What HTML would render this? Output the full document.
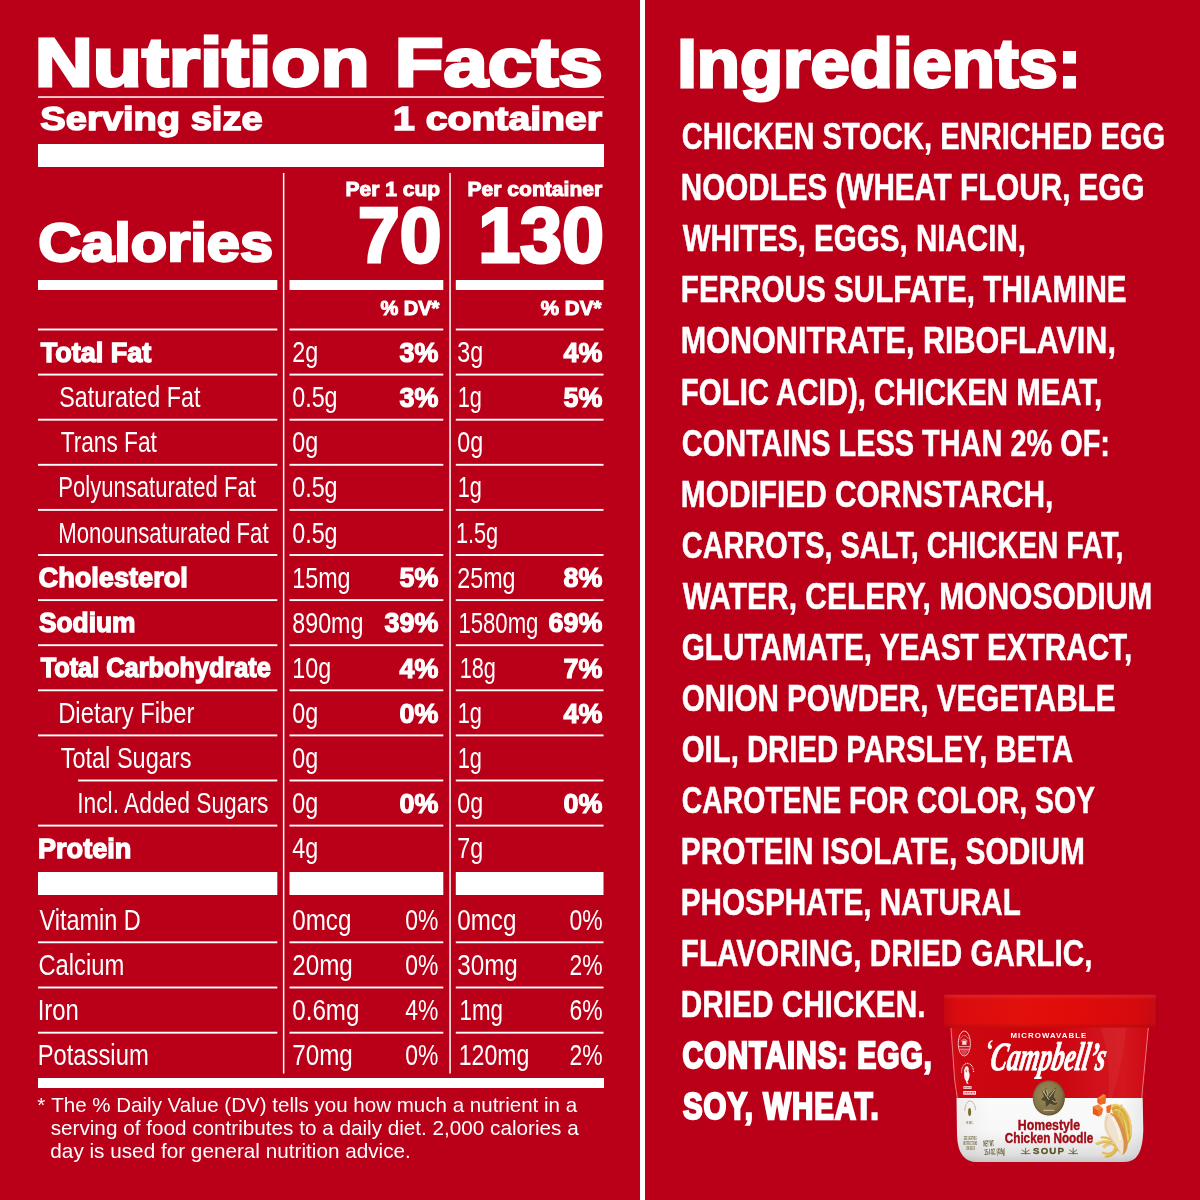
<!DOCTYPE html>
<html lang="en"><head><meta charset="utf-8"><title>Nutrition Facts and Ingredients</title>
<style>
html,body{margin:0;padding:0;background:#ba0019;width:1200px;height:1200px;overflow:hidden}
svg{display:block}
text{white-space:pre}
</style></head><body>
<svg width="1200" height="1200" viewBox="0 0 1200 1200">
<rect x="0.00" y="0.00" width="1200.00" height="1200.00" fill="#ba0019" />
<rect x="640.00" y="0.00" width="5.00" height="1200.00" fill="#fff" />
<rect x="38.00" y="96.30" width="566.00" height="1.50" fill="#fff" />
<rect x="38.00" y="144.00" width="566.00" height="23.00" fill="#fff" />
<rect x="282.90" y="173.00" width="1.50" height="900.50" fill="#fff" />
<rect x="449.30" y="173.00" width="1.50" height="900.50" fill="#fff" />
<rect x="38.00" y="280.00" width="239.30" height="10.00" fill="#fff" />
<rect x="289.50" y="280.00" width="153.80" height="10.00" fill="#fff" />
<rect x="455.80" y="280.00" width="147.70" height="10.00" fill="#fff" />
<rect x="38.00" y="328.55" width="239.30" height="1.90" fill="#fff" />
<rect x="289.50" y="328.55" width="153.80" height="1.90" fill="#fff" />
<rect x="455.80" y="328.55" width="147.70" height="1.90" fill="#fff" />
<rect x="38.00" y="373.65" width="239.30" height="1.90" fill="#fff" />
<rect x="289.50" y="373.65" width="153.80" height="1.90" fill="#fff" />
<rect x="455.80" y="373.65" width="147.70" height="1.90" fill="#fff" />
<rect x="38.00" y="418.75" width="239.30" height="1.90" fill="#fff" />
<rect x="289.50" y="418.75" width="153.80" height="1.90" fill="#fff" />
<rect x="455.80" y="418.75" width="147.70" height="1.90" fill="#fff" />
<rect x="38.00" y="463.85" width="239.30" height="1.90" fill="#fff" />
<rect x="289.50" y="463.85" width="153.80" height="1.90" fill="#fff" />
<rect x="455.80" y="463.85" width="147.70" height="1.90" fill="#fff" />
<rect x="38.00" y="508.95" width="239.30" height="1.90" fill="#fff" />
<rect x="289.50" y="508.95" width="153.80" height="1.90" fill="#fff" />
<rect x="455.80" y="508.95" width="147.70" height="1.90" fill="#fff" />
<rect x="38.00" y="554.05" width="239.30" height="1.90" fill="#fff" />
<rect x="289.50" y="554.05" width="153.80" height="1.90" fill="#fff" />
<rect x="455.80" y="554.05" width="147.70" height="1.90" fill="#fff" />
<rect x="38.00" y="599.15" width="239.30" height="1.90" fill="#fff" />
<rect x="289.50" y="599.15" width="153.80" height="1.90" fill="#fff" />
<rect x="455.80" y="599.15" width="147.70" height="1.90" fill="#fff" />
<rect x="38.00" y="644.25" width="239.30" height="1.90" fill="#fff" />
<rect x="289.50" y="644.25" width="153.80" height="1.90" fill="#fff" />
<rect x="455.80" y="644.25" width="147.70" height="1.90" fill="#fff" />
<rect x="38.00" y="689.35" width="239.30" height="1.90" fill="#fff" />
<rect x="289.50" y="689.35" width="153.80" height="1.90" fill="#fff" />
<rect x="455.80" y="689.35" width="147.70" height="1.90" fill="#fff" />
<rect x="38.00" y="734.45" width="239.30" height="1.90" fill="#fff" />
<rect x="289.50" y="734.45" width="153.80" height="1.90" fill="#fff" />
<rect x="455.80" y="734.45" width="147.70" height="1.90" fill="#fff" />
<rect x="78.00" y="779.55" width="199.30" height="1.90" fill="#fff" />
<rect x="289.50" y="779.55" width="153.80" height="1.90" fill="#fff" />
<rect x="455.80" y="779.55" width="147.70" height="1.90" fill="#fff" />
<rect x="38.00" y="824.65" width="239.30" height="1.90" fill="#fff" />
<rect x="289.50" y="824.65" width="153.80" height="1.90" fill="#fff" />
<rect x="455.80" y="824.65" width="147.70" height="1.90" fill="#fff" />
<rect x="38.00" y="872.00" width="239.30" height="23.00" fill="#fff" />
<rect x="289.50" y="872.00" width="153.80" height="23.00" fill="#fff" />
<rect x="455.80" y="872.00" width="147.70" height="23.00" fill="#fff" />
<rect x="38.00" y="941.35" width="239.30" height="1.90" fill="#fff" />
<rect x="289.50" y="941.35" width="153.80" height="1.90" fill="#fff" />
<rect x="455.80" y="941.35" width="147.70" height="1.90" fill="#fff" />
<rect x="38.00" y="986.55" width="239.30" height="1.90" fill="#fff" />
<rect x="289.50" y="986.55" width="153.80" height="1.90" fill="#fff" />
<rect x="455.80" y="986.55" width="147.70" height="1.90" fill="#fff" />
<rect x="38.00" y="1031.75" width="239.30" height="1.90" fill="#fff" />
<rect x="289.50" y="1031.75" width="153.80" height="1.90" fill="#fff" />
<rect x="455.80" y="1031.75" width="147.70" height="1.90" fill="#fff" />
<rect x="38.00" y="1078.00" width="566.00" height="10.00" fill="#fff" />
<g font-family="'Liberation Sans', sans-serif" fill="#fff">
<text transform="translate(34.73 86.00) scale(1.1720 1)" font-size="68.6" font-weight="700" stroke="#fff" stroke-width="3" stroke-linejoin="miter">Nutrition</text>
<text transform="translate(394.76 86.00) scale(1.1608 1)" font-size="68.6" font-weight="700" stroke="#fff" stroke-width="3" stroke-linejoin="miter">Facts</text>
<text transform="translate(40.28 130.25) scale(1.1659 1)" font-size="32.7" font-weight="700" stroke="#fff" stroke-width="1.5" stroke-linejoin="miter">Serving size</text>
<text transform="translate(392.95 130.45) scale(1.1992 1)" font-size="32.7" font-weight="700" stroke="#fff" stroke-width="1.5" stroke-linejoin="miter">1 container</text>
<text transform="translate(38.26 261.25) scale(1.0917 1)" font-size="54.5" font-weight="700" stroke="#fff" stroke-width="2.5" stroke-linejoin="miter">Calories</text>
<text transform="translate(345.62 196.00) scale(1.0713 1)" font-size="19.6" font-weight="700" stroke="#fff" stroke-width="1" stroke-linejoin="miter">Per 1 cup</text>
<text transform="translate(467.52 196.00) scale(1.0756 1)" font-size="19.6" font-weight="700" stroke="#fff" stroke-width="1" stroke-linejoin="miter">Per container</text>
<text transform="translate(358.10 262.30) scale(0.9624 1)" font-size="78" font-weight="700" stroke="#fff" stroke-width="3" stroke-linejoin="miter">70</text>
<text transform="translate(478.13 262.30) scale(0.9680 1)" font-size="78" font-weight="700" stroke="#fff" stroke-width="3" stroke-linejoin="miter">130</text>
<text transform="translate(380.40 314.90) scale(1.0231 1)" font-size="19.6" font-weight="700" stroke="#fff" stroke-width="1" stroke-linejoin="miter">% DV*</text>
<text transform="translate(540.80 314.90) scale(1.0505 1)" font-size="19.6" font-weight="700" stroke="#fff" stroke-width="1" stroke-linejoin="miter">% DV*</text>
<text transform="translate(40.68 361.70) scale(0.9668 1)" font-size="28" font-weight="700" stroke="#fff" stroke-width="1.4" stroke-linejoin="miter">Total Fat</text>
<text transform="translate(292.25 362.10) scale(0.8030 1)" font-size="29">2g</text>
<text transform="translate(457.25 362.10) scale(0.8030 1)" font-size="29">3g</text>
<text transform="translate(399.55 361.80) scale(0.9600 1)" font-size="28" font-weight="700" stroke="#fff" stroke-width="1.2" stroke-linejoin="miter">3%</text>
<text transform="translate(563.45 361.80) scale(0.9600 1)" font-size="28" font-weight="700" stroke="#fff" stroke-width="1.2" stroke-linejoin="miter">4%</text>
<text transform="translate(59.27 407.20) scale(0.8033 1)" font-size="29">Saturated Fat</text>
<text transform="translate(292.25 407.20) scale(0.8030 1)" font-size="29">0.5g</text>
<text transform="translate(457.63 407.20) scale(0.7500 1)" font-size="29">1g</text>
<text transform="translate(399.55 406.90) scale(0.9600 1)" font-size="28" font-weight="700" stroke="#fff" stroke-width="1.2" stroke-linejoin="miter">3%</text>
<text transform="translate(563.45 406.90) scale(0.9600 1)" font-size="28" font-weight="700" stroke="#fff" stroke-width="1.2" stroke-linejoin="miter">5%</text>
<text transform="translate(60.65 452.30) scale(0.7827 1)" font-size="29">Trans Fat</text>
<text transform="translate(292.25 452.30) scale(0.8030 1)" font-size="29">0g</text>
<text transform="translate(457.25 452.30) scale(0.8030 1)" font-size="29">0g</text>
<text transform="translate(58.27 497.40) scale(0.7615 1)" font-size="29">Polyunsaturated Fat</text>
<text transform="translate(292.25 497.40) scale(0.8030 1)" font-size="29">0.5g</text>
<text transform="translate(457.63 497.40) scale(0.7500 1)" font-size="29">1g</text>
<text transform="translate(58.27 542.50) scale(0.7632 1)" font-size="29">Monounsaturated Fat</text>
<text transform="translate(292.25 542.50) scale(0.8030 1)" font-size="29">0.5g</text>
<text transform="translate(455.89 542.50) scale(0.7500 1)" font-size="29">1.5g</text>
<text transform="translate(38.58 587.20) scale(0.9696 1)" font-size="28" font-weight="700" stroke="#fff" stroke-width="1.4" stroke-linejoin="miter">Cholesterol</text>
<text transform="translate(292.25 587.60) scale(0.8030 1)" font-size="29">15mg</text>
<text transform="translate(457.25 587.60) scale(0.8030 1)" font-size="29">25mg</text>
<text transform="translate(399.55 587.30) scale(0.9600 1)" font-size="28" font-weight="700" stroke="#fff" stroke-width="1.2" stroke-linejoin="miter">5%</text>
<text transform="translate(563.45 587.30) scale(0.9600 1)" font-size="28" font-weight="700" stroke="#fff" stroke-width="1.2" stroke-linejoin="miter">8%</text>
<text transform="translate(39.00 632.30) scale(0.9395 1)" font-size="28" font-weight="700" stroke="#fff" stroke-width="1.4" stroke-linejoin="miter">Sodium</text>
<text transform="translate(292.25 632.70) scale(0.8030 1)" font-size="29">890mg</text>
<text transform="translate(458.42 632.70) scale(0.7636 1)" font-size="29">1580mg</text>
<text transform="translate(384.61 632.40) scale(0.9600 1)" font-size="28" font-weight="700" stroke="#fff" stroke-width="1.2" stroke-linejoin="miter">39%</text>
<text transform="translate(548.51 632.40) scale(0.9600 1)" font-size="28" font-weight="700" stroke="#fff" stroke-width="1.2" stroke-linejoin="miter">69%</text>
<text transform="translate(40.63 677.40) scale(0.9047 1)" font-size="28" font-weight="700" stroke="#fff" stroke-width="1.4" stroke-linejoin="miter">Total Carbohydrate</text>
<text transform="translate(292.25 677.80) scale(0.8030 1)" font-size="29">10g</text>
<text transform="translate(459.64 677.80) scale(0.7476 1)" font-size="29">18g</text>
<text transform="translate(399.55 677.50) scale(0.9600 1)" font-size="28" font-weight="700" stroke="#fff" stroke-width="1.2" stroke-linejoin="miter">4%</text>
<text transform="translate(563.45 677.50) scale(0.9600 1)" font-size="28" font-weight="700" stroke="#fff" stroke-width="1.2" stroke-linejoin="miter">7%</text>
<text transform="translate(58.14 722.90) scale(0.8222 1)" font-size="29">Dietary Fiber</text>
<text transform="translate(292.25 722.90) scale(0.8030 1)" font-size="29">0g</text>
<text transform="translate(457.63 722.90) scale(0.7500 1)" font-size="29">1g</text>
<text transform="translate(399.55 722.60) scale(0.9600 1)" font-size="28" font-weight="700" stroke="#fff" stroke-width="1.2" stroke-linejoin="miter">0%</text>
<text transform="translate(563.45 722.60) scale(0.9600 1)" font-size="28" font-weight="700" stroke="#fff" stroke-width="1.2" stroke-linejoin="miter">4%</text>
<text transform="translate(60.63 768.00) scale(0.8118 1)" font-size="29">Total Sugars</text>
<text transform="translate(292.25 768.00) scale(0.8030 1)" font-size="29">0g</text>
<text transform="translate(457.63 768.00) scale(0.7500 1)" font-size="29">1g</text>
<text transform="translate(77.22 813.10) scale(0.7855 1)" font-size="29">Incl. Added Sugars</text>
<text transform="translate(292.25 813.10) scale(0.8030 1)" font-size="29">0g</text>
<text transform="translate(457.25 813.10) scale(0.8030 1)" font-size="29">0g</text>
<text transform="translate(399.55 812.80) scale(0.9600 1)" font-size="28" font-weight="700" stroke="#fff" stroke-width="1.2" stroke-linejoin="miter">0%</text>
<text transform="translate(563.45 812.80) scale(0.9600 1)" font-size="28" font-weight="700" stroke="#fff" stroke-width="1.2" stroke-linejoin="miter">0%</text>
<text transform="translate(37.98 857.80) scale(0.9683 1)" font-size="28" font-weight="700" stroke="#fff" stroke-width="1.4" stroke-linejoin="miter">Protein</text>
<text transform="translate(292.25 858.20) scale(0.8030 1)" font-size="29">4g</text>
<text transform="translate(457.25 858.20) scale(0.8030 1)" font-size="29">7g</text>
<text transform="translate(39.50 930.00) scale(0.8094 1)" font-size="29">Vitamin D</text>
<text transform="translate(292.21 930.00) scale(0.8350 1)" font-size="29">0mcg</text>
<text transform="translate(457.21 930.00) scale(0.8350 1)" font-size="29">0mcg</text>
<text transform="translate(405.27 930.00) scale(0.7900 1)" font-size="29">0%</text>
<text transform="translate(569.47 930.00) scale(0.7900 1)" font-size="29">0%</text>
<text transform="translate(38.39 974.80) scale(0.8196 1)" font-size="29">Calcium</text>
<text transform="translate(292.21 974.80) scale(0.8350 1)" font-size="29">20mg</text>
<text transform="translate(457.21 974.80) scale(0.8350 1)" font-size="29">30mg</text>
<text transform="translate(405.27 974.80) scale(0.7900 1)" font-size="29">0%</text>
<text transform="translate(569.47 974.80) scale(0.7900 1)" font-size="29">2%</text>
<text transform="translate(37.63 1019.90) scale(0.8247 1)" font-size="29">Iron</text>
<text transform="translate(292.21 1019.90) scale(0.8350 1)" font-size="29">0.6mg</text>
<text transform="translate(459.60 1019.90) scale(0.7702 1)" font-size="29">1mg</text>
<text transform="translate(405.27 1019.90) scale(0.7900 1)" font-size="29">4%</text>
<text transform="translate(569.47 1019.90) scale(0.7900 1)" font-size="29">6%</text>
<text transform="translate(37.64 1065.00) scale(0.8206 1)" font-size="29">Potassium</text>
<text transform="translate(292.21 1065.00) scale(0.8350 1)" font-size="29">70mg</text>
<text transform="translate(458.75 1065.00) scale(0.7978 1)" font-size="29">120mg</text>
<text transform="translate(405.27 1065.00) scale(0.7900 1)" font-size="29">0%</text>
<text transform="translate(569.47 1065.00) scale(0.7900 1)" font-size="29">2%</text>
<text transform="translate(37.18 1111.60) scale(1.0000 1)" font-size="20.5">*</text>
<text transform="translate(51.18 1111.60) scale(1.0025 1)" font-size="20.5">The % Daily Value (DV) tells you how much a nutrient in a</text>
<text transform="translate(50.68 1134.80) scale(1.0098 1)" font-size="20.5">serving of food contributes to a daily diet. 2,000 calories a</text>
<text transform="translate(50.35 1158.00) scale(1.0108 1)" font-size="20.5">day is used for general nutrition advice.</text>
<text transform="translate(677.13 87.25) scale(1.0281 1)" font-size="68.7" font-weight="700" stroke="#fff" stroke-width="3" stroke-linejoin="miter">Ingredients:</text>
<text transform="translate(681.79 149.25) scale(0.7832 1)" font-size="37.2" font-weight="700" stroke="#fff" stroke-width="0.5" stroke-linejoin="miter">CHICKEN STOCK, ENRICHED EGG</text>
<text transform="translate(680.85 200.30) scale(0.7966 1)" font-size="37.2" font-weight="700" stroke="#fff" stroke-width="0.5" stroke-linejoin="miter">NOODLES (WHEAT FLOUR, EGG</text>
<text transform="translate(682.70 251.35) scale(0.7949 1)" font-size="37.2" font-weight="700" stroke="#fff" stroke-width="0.5" stroke-linejoin="miter">WHITES, EGGS, NIACIN,</text>
<text transform="translate(680.85 302.40) scale(0.7973 1)" font-size="37.2" font-weight="700" stroke="#fff" stroke-width="0.5" stroke-linejoin="miter">FERROUS SULFATE, THIAMINE</text>
<text transform="translate(680.79 353.45) scale(0.8218 1)" font-size="37.2" font-weight="700" stroke="#fff" stroke-width="0.5" stroke-linejoin="miter">MONONITRATE, RIBOFLAVIN,</text>
<text transform="translate(680.86 404.50) scale(0.7907 1)" font-size="37.2" font-weight="700" stroke="#fff" stroke-width="0.5" stroke-linejoin="miter">FOLIC ACID), CHICKEN MEAT,</text>
<text transform="translate(681.79 455.55) scale(0.7773 1)" font-size="37.2" font-weight="700" stroke="#fff" stroke-width="0.5" stroke-linejoin="miter">CONTAINS LESS THAN 2% OF:</text>
<text transform="translate(680.83 506.60) scale(0.8028 1)" font-size="37.2" font-weight="700" stroke="#fff" stroke-width="0.5" stroke-linejoin="miter">MODIFIED CORNSTARCH,</text>
<text transform="translate(681.79 557.65) scale(0.7763 1)" font-size="37.2" font-weight="700" stroke="#fff" stroke-width="0.5" stroke-linejoin="miter">CARROTS, SALT, CHICKEN FAT,</text>
<text transform="translate(682.70 608.70) scale(0.8063 1)" font-size="37.2" font-weight="700" stroke="#fff" stroke-width="0.5" stroke-linejoin="miter">WATER, CELERY, MONOSODIUM</text>
<text transform="translate(681.77 659.75) scale(0.7985 1)" font-size="37.2" font-weight="700" stroke="#fff" stroke-width="0.5" stroke-linejoin="miter">GLUTAMATE, YEAST EXTRACT,</text>
<text transform="translate(681.77 710.80) scale(0.7961 1)" font-size="37.2" font-weight="700" stroke="#fff" stroke-width="0.5" stroke-linejoin="miter">ONION POWDER, VEGETABLE</text>
<text transform="translate(681.78 761.85) scale(0.7883 1)" font-size="37.2" font-weight="700" stroke="#fff" stroke-width="0.5" stroke-linejoin="miter">OIL, DRIED PARSLEY, BETA</text>
<text transform="translate(681.80 812.90) scale(0.7633 1)" font-size="37.2" font-weight="700" stroke="#fff" stroke-width="0.5" stroke-linejoin="miter">CAROTENE FOR COLOR, SOY</text>
<text transform="translate(680.83 863.95) scale(0.8027 1)" font-size="37.2" font-weight="700" stroke="#fff" stroke-width="0.5" stroke-linejoin="miter">PROTEIN ISOLATE, SODIUM</text>
<text transform="translate(680.84 915.00) scale(0.7978 1)" font-size="37.2" font-weight="700" stroke="#fff" stroke-width="0.5" stroke-linejoin="miter">PHOSPHATE, NATURAL</text>
<text transform="translate(680.84 966.05) scale(0.7979 1)" font-size="37.2" font-weight="700" stroke="#fff" stroke-width="0.5" stroke-linejoin="miter">FLAVORING, DRIED GARLIC,</text>
<text transform="translate(680.84 1017.10) scale(0.8000 1)" font-size="37.2" font-weight="700" stroke="#fff" stroke-width="0.5" stroke-linejoin="miter">DRIED CHICKEN.</text>
<text transform="translate(682.52 1067.80) scale(0.7612 1)" font-size="37.6" font-weight="700" stroke="#fff" stroke-width="2.4" stroke-linejoin="miter" letter-spacing="1.3">CONTAINS: EGG,</text>
<text transform="translate(682.98 1118.85) scale(0.7818 1)" font-size="37.6" font-weight="700" stroke="#fff" stroke-width="2.4" stroke-linejoin="miter" letter-spacing="1.3">SOY, WHEAT.</text>
<g id="cup">
<defs>
<linearGradient id="lidg" x1="0" x2="1" y1="0" y2="0">
<stop offset="0" stop-color="#c8070f"/><stop offset="0.06" stop-color="#da0c10"/><stop offset="0.35" stop-color="#e2100c"/><stop offset="0.6" stop-color="#e00c0a"/><stop offset="0.9" stop-color="#d60a0e"/><stop offset="1" stop-color="#c50a12"/>
</linearGradient>
<linearGradient id="lidv" x1="0" x2="0" y1="0" y2="1">
<stop offset="0" stop-color="#fff" stop-opacity="0.10"/><stop offset="0.15" stop-color="#fff" stop-opacity="0"/><stop offset="0.85" stop-color="#000" stop-opacity="0"/><stop offset="1" stop-color="#000" stop-opacity="0.12"/>
</linearGradient>
<linearGradient id="bodyr" x1="0" x2="1" y1="0" y2="0">
<stop offset="0" stop-color="#d01018"/><stop offset="0.06" stop-color="#cd0812"/><stop offset="0.3" stop-color="#cb0510"/><stop offset="0.5" stop-color="#c9040e"/><stop offset="0.72" stop-color="#d0101a"/><stop offset="0.86" stop-color="#d4161e"/><stop offset="0.96" stop-color="#cf0c16"/><stop offset="1" stop-color="#d21018"/>
</linearGradient>
<linearGradient id="bodyw" x1="0" x2="1" y1="0" y2="0">
<stop offset="0" stop-color="#d4d2d0"/><stop offset="0.05" stop-color="#f4f3f2"/><stop offset="0.2" stop-color="#ffffff"/><stop offset="0.85" stop-color="#ffffff"/><stop offset="0.96" stop-color="#efeeee"/><stop offset="1" stop-color="#d8d6d6"/>
</linearGradient>
<linearGradient id="bodywv" x1="0" x2="0" y1="0" y2="1">
<stop offset="0" stop-color="#000" stop-opacity="0.02"/><stop offset="0.5" stop-color="#000" stop-opacity="0.03"/><stop offset="0.85" stop-color="#000" stop-opacity="0.12"/><stop offset="1" stop-color="#000" stop-opacity="0.24"/>
</linearGradient>
<radialGradient id="med" cx="0.42" cy="0.4" r="0.65">
<stop offset="0" stop-color="#9a8a58"/><stop offset="0.700" stop-color="#86744a"/><stop offset="1" stop-color="#6a5a34"/>
</radialGradient>
<clipPath id="bodyclip"><path d="M950 1027 L953.750 1080 Q955.500 1092 956.500 1098 L957 1135 Q957.600 1150 963 1156 Q968 1162 977 1162 L1124 1162 Q1134 1162 1138.500 1154 Q1143 1146 1143.300 1130 L1142.700 1098 Q1143.200 1090 1144.200 1080 L1149.200 1027 Z"/></clipPath>
</defs>
<g clip-path="url(#bodyclip)">
<rect x="948" y="1026" width="204" height="73" fill="url(#bodyr)"/>
<path d="M1100 1027 L1126 1027 Q1124 1060 1112 1098 L1108 1098 Q1112 1060 1100 1027Z" fill="#fff" opacity="0.05"/>
<rect x="948" y="1098" width="204" height="66" fill="url(#bodyw)"/>
<rect x="948" y="1098" width="204" height="66" fill="url(#bodywv)"/>
<path d="M951 1028 L954.700 1080 Q956.300 1092 957.300 1098" fill="none" stroke="#f3a0a6" stroke-width="0.900" opacity="0.800"/>
<path d="M1148.300 1028 L1143.400 1080 Q1142.300 1090 1141.900 1098" fill="none" stroke="#f3a0a6" stroke-width="0.900" opacity="0.800"/>
</g>
<path d="M946.500 994.800 H1153.500 Q1155.800 994.800 1155.800 997.400 V1027.500 H944.200 V997.400 Q944.200 994.800 946.500 994.800Z" fill="url(#lidg)"/>
<rect x="944.2" y="994.8" width="211.6" height="32.7" fill="url(#lidv)"/>
<rect x="1155.8" y="998" width="2.2" height="31" fill="#000" opacity="0.035"/>
<ellipse cx="1048.800" cy="1098" rx="16.100" ry="17.600" fill="url(#med)"/>
<ellipse cx="1048.800" cy="1098" rx="15.200" ry="16.700" fill="none" stroke="#5e5128" stroke-width="1.100" stroke-dasharray="0.900 0.700" opacity="0.800"/>
<path d="M1041.500 1089.500 L1044.500 1094 L1046 1087.500 L1048.500 1095 L1056.500 1087 L1053.500 1096.500 L1056.500 1101 Q1058 1104.500 1054.500 1105 L1050 1103.500 L1046 1107 L1045.500 1101 L1041 1100 L1044 1096.500Z" fill="#3d3422" opacity="0.780"/>
<path d="M1043.500 1091.500 L1048.800 1099.500 M1055 1089.500 L1049.500 1097 M1046.500 1090 L1048 1095.500 M1052.500 1100.500 Q1055.500 1103.500 1056.500 1101.500" stroke="#e2dcc0" stroke-width="0.900" fill="none" stroke-linecap="round" opacity="0.900"/>
<path d="M1043.800 1110.300 H1054" stroke="#ddd6b6" stroke-width="0.900" stroke-linecap="round" opacity="0.900"/>
<path d="M1097.5 1098.3 L1103.7 1093.9 L1105.9 1095.8 L1105.3 1103.6 L1100 1104.7 L1097.2 1102.4Z" fill="#e85f1a"/>
<path d="M1097.5 1098.3 L1103.7 1093.9 L1105.9 1095.8 L1100.2 1099.6Z" fill="#f5873a"/>
<path d="M1100.2 1099.6 L1105.9 1095.8 L1105.3 1103.6 L1100 1104.7Z" fill="#ee6c22"/>
<path d="M1092.8 1106.7 L1098.4 1104.6 L1102.8 1108.6 L1101.9 1114.2 L1098.4 1116.4 L1092.8 1113.9Z" fill="#e65a18"/>
<path d="M1092.8 1106.7 L1098.4 1104.6 L1102.8 1108.6 L1097.6 1110.4Z" fill="#f58a3c"/>
<path d="M1097.6 1110.4 L1102.8 1108.6 L1101.9 1114.2 L1098.4 1116.4Z" fill="#ef7026"/>
<path d="M1106.3 1106.4 L1111.4 1104.3 L1110.9 1108.6 L1110 1113 L1106.6 1112.7Z" fill="#ea6a20"/>
<path d="M1111 1107 Q1118 1102.5 1124 1108 Q1132 1118 1132 1132 Q1131.5 1141 1126 1146 L1118 1130 Z" fill="#d9aa40"/>
<g fill="none" stroke="#e6bd52" stroke-width="2.2" stroke-linecap="round">
<path d="M1111.5 1107.5 Q1113 1104.4 1117 1105 Q1124 1107 1128 1116 Q1131.5 1125 1130.600 1136"/>
<path d="M1114.500 1110 Q1121 1109 1125 1118 Q1128.500 1128 1127.500 1141"/>
<path d="M1121.500 1105.500 Q1119 1110 1118.500 1114.500"/>
<path d="M1118.500 1115 Q1125 1120 1126.500 1131 Q1127 1139 1124.500 1145"/>
<path d="M1121 1122 Q1124 1128 1124.500 1136"/>
</g>
<g fill="none" stroke="#f6e29a" stroke-width="0.7" stroke-linecap="round" opacity="0.9">
<path d="M1112 1106.800 Q1113.400 1104 1117 1104.500 Q1124.400 1106.400 1128.600 1115.600 Q1132 1125 1131.200 1135"/>
<path d="M1115 1109.300 Q1121.500 1108.400 1125.600 1117.600 Q1129 1128 1128 1140"/>
<path d="M1119 1114.300 Q1125.600 1119.400 1127 1130.500"/>
</g>
<g fill="none" stroke="#b98a26" stroke-width="0.7" stroke-linecap="round" opacity="0.75">
<path d="M1113 1109 Q1120 1106.500 1124 1114 Q1128 1124 1128.800 1134"/>
<path d="M1117 1113 Q1122.500 1116 1124.600 1126 Q1125.600 1136 1124 1143"/>
</g>
<path d="M1110 1113 Q1114.500 1113.600 1118.500 1118 Q1124.500 1126 1127.500 1141 Q1128.600 1149 1124 1154.300 L1121 1154.600 Q1112 1146 1108 1134Z" fill="#d88f48"/>
<path d="M1106.600 1113 Q1110 1112.800 1114.400 1117.400 Q1120.500 1127 1123.400 1141 Q1124.200 1150 1122.400 1154.300 L1120 1154.300 Q1115 1145 1111.200 1139.900 Q1105 1133 1104.200 1128 Q1103 1120 1106.600 1113Z" fill="#f1e2cf"/>
<path d="M1107.500 1116 Q1105 1123 1106.500 1130 Q1110 1137 1113 1141 Q1117 1147 1120.500 1153" fill="none" stroke="#dcc8ac" stroke-width="1.300" opacity="0.85"/>
<path d="M1112 1117 Q1118 1126 1120.500 1140" fill="none" stroke="#fbf3e6" stroke-width="2.500" opacity="0.8"/>
<g fill="none" stroke="#e6bd52" stroke-width="2.200" stroke-linecap="round">
<path d="M1096.500 1143.500 Q1103 1140 1110 1141.500"/>
<path d="M1101.500 1137.500 Q1106 1136.800 1109.500 1139"/>
<path d="M1103.500 1146.500 Q1109 1141 1114 1144 Q1117 1148.500 1112.500 1152.500 Q1108 1155 1103 1152.800"/>
<path d="M1105.500 1156.500 Q1113.500 1156 1116.600 1148.500"/>
</g>
<g fill="none" stroke="#f6e29a" stroke-width="0.700" stroke-linecap="round" opacity="0.9">
<path d="M1096.800 1142.900 Q1103 1139.400 1110 1140.900"/><path d="M1103.800 1145.800 Q1109 1140.400 1113.800 1143.300"/>
</g>
<g fill="none" stroke="#b98a26" stroke-width="0.700" stroke-linecap="round" opacity="0.75">
<path d="M1097.400 1144.600 Q1104 1141.200 1110.400 1142.800"/><path d="M1104.400 1148 Q1109.600 1142.800 1113.200 1145.400"/><path d="M1106 1157.400 Q1114 1156.800 1117.200 1149.400"/>
</g>
<g fill="none" stroke="#fff" stroke-width="0.800" opacity="0.900"><ellipse cx="964.300" cy="1043.500" rx="6.100" ry="12.500"/><path d="M959.800 1039.500 Q964.300 1031.500 968.800 1039.500" stroke-dasharray="0.800 0.600"/><path d="M961 1041.500 Q964.300 1036.500 967.600 1041.500" stroke-width="0.600"/><path d="M959 1046.600 H969.600 M959.400 1049.200 H969.200" stroke-width="0.700"/></g>
<rect x="962.200" y="1040.600" width="4.300" height="4.200" fill="#fff" opacity="0.850"/>
<path d="M960.400 1050 H968.200 Q966.500 1054.500 964.300 1055.200 Q962 1054.500 960.400 1050Z" fill="#fff" opacity="0.250"/>
<path d="M961.600 1072.500 Q961.500 1064.500 967.200 1063.300 Q973 1064 973.600 1072" fill="none" stroke="#fff" stroke-width="1.100" stroke-dasharray="0.900 0.700" opacity="0.900"/>
<path d="M965.200 1067 Q966.800 1065.400 968.200 1067 Q969.200 1069 968.600 1071 Q970.600 1075 968.800 1079 Q968 1081 967.400 1081.600 L968.600 1084 L966.600 1083.400 L966 1081 Q963.600 1078 964.200 1073 Q963.800 1069 965.200 1067Z" fill="#fff" opacity="0.950"/>
<path d="M966.200 1068.500 L966.800 1072.600 L965.600 1071.600Z" fill="#c80a14"/>
<rect x="963.400" y="1086" width="8.200" height="3" fill="#fff" opacity="0.800"/>
<rect x="963.200" y="1091" width="12.800" height="3.700" fill="#fff" opacity="0.900"/>
<path d="M964.500 1092.850 H975" stroke="#c80a14" stroke-width="1.500" stroke-dasharray="1.100 0.500" opacity="0.700"/>
<path d="M964.200 1087.500 H971" stroke="#c80a14" stroke-width="1.300" stroke-dasharray="0.900 0.500" opacity="0.600"/>
<ellipse cx="969.6" cy="1112" rx="1.5" ry="4" fill="#7b6a2e"/>
<path d="M964.8 1110.6 Q965.6 1101.6 969.8 1101 Q974.6 1101.6 975.6 1110" fill="none" stroke="#7b6a2e" stroke-width="0.9" stroke-dasharray="0.9 0.7" opacity="0.85"/>
<g transform="translate(1025.6 1151.4)" stroke="#6a673a" stroke-width="0.9" fill="none" stroke-linecap="round"><path d="M0 2.600V-3.200M0 1.200L-3.600-1.400M0 1.200L3.600-1.400M-4.400 2.200H4.400"/></g>
<g transform="translate(1073.2 1151.4)" stroke="#6a673a" stroke-width="0.9" fill="none" stroke-linecap="round"><path d="M0 2.600V-3.200M0 1.200L-3.600-1.400M0 1.200L3.600-1.400M-4.400 2.200H4.400"/></g>
<text transform="translate(1010.51 1037.60) rotate(0) skewX(0) scale(1.1874 1)" font-size="6.6" fill="#fff" font-weight="700" letter-spacing="0.9">MICROWAVABLE</text>
<text transform="translate(989.00 1070.35) rotate(0) skewX(-10) scale(0.6259 1)" font-size="40" fill="#fff" font-weight="700" font-style="italic" font-family="'Liberation Serif', serif" stroke="#fff" stroke-width="0.9">Campbell’s</text>
<text transform="translate(984.91 1060.00) rotate(0) skewX(0) scale(0.8205 1)" font-size="30" fill="#fff" font-weight="700" font-style="italic" font-family="'Liberation Serif', serif">‘</text>
<text transform="translate(1017.80 1129.70) rotate(0) skewX(0) scale(0.8342 1)" font-size="14.8" fill="#a00c18" font-weight="700" stroke="#a00c18" stroke-width="0.4">Homestyle</text>
<text transform="translate(1004.79 1143.10) rotate(0) skewX(0) scale(0.7908 1)" font-size="14.8" fill="#a00c18" font-weight="700" stroke="#a00c18" stroke-width="0.4">Chicken Noodle</text>
<text transform="translate(1033.11 1154.45) rotate(0) skewX(0) scale(1.0906 1)" font-size="8.9" fill="#5a5226" font-weight="700" stroke="#5a5226" stroke-width="0.3" letter-spacing="1.0">SOUP</text>
<text transform="translate(983.43 1146.60) rotate(-3) skewX(0) scale(0.3178 1)" font-size="8.6" fill="#5e5128" font-weight="700">NET WT.</text>
<text transform="translate(984.62 1155.00) rotate(-3) skewX(0) scale(0.3381 1)" font-size="8.6" fill="#5e5128" font-weight="700">15.4 OZ. (435g)</text>
<text transform="translate(966.07 1124.40) rotate(0) skewX(0) scale(0.6685 1)" font-size="3" fill="#7b6a2e" font-weight="700" opacity="0.85">IN SEC.</text>
<text transform="translate(963.77 1139.60) rotate(0) skewX(0) scale(0.3861 1)" font-size="5" fill="#6e5f38" font-weight="700" opacity="0.9">SEE HEATING</text>
<text transform="translate(963.28 1145.10) rotate(0) skewX(0) scale(0.3724 1)" font-size="5" fill="#6e5f38" font-weight="700" opacity="0.9">INSTRUCTIONS</text>
<text transform="translate(966.34 1150.40) rotate(0) skewX(0) scale(0.3713 1)" font-size="5" fill="#6e5f38" font-weight="700" opacity="0.9">ON BACK</text>
</g>
</g>
</svg>
</body></html>
